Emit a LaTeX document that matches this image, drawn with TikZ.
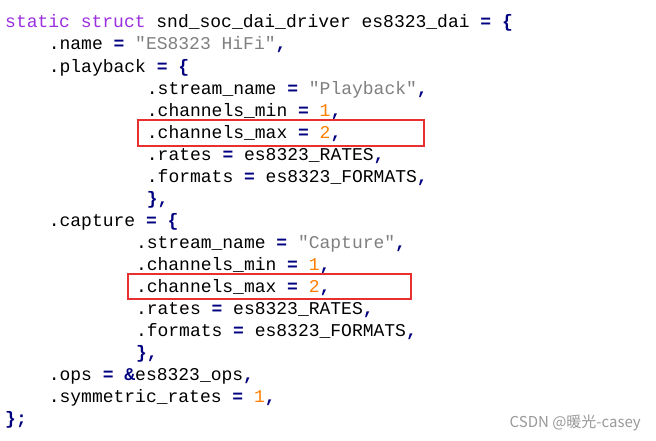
\documentclass[tikz,border=0pt]{standalone}
\usepackage{fontspec}
\setmonofont{Liberation Mono}
\newfontfamily\cjk{Noto Sans CJK SC}
\definecolor{kw}{HTML}{9B30E0}
\definecolor{op}{HTML}{000080}
\definecolor{str}{HTML}{808080}
\definecolor{num}{HTML}{FF8000}
\definecolor{box}{HTML}{E83030}
\newcommand\cK[1]{\textcolor{kw}{#1}}
\newcommand\cO[1]{\textcolor{op}{\bfseries #1}}
\newcommand\cS[1]{\textcolor{str}{#1}}
\newcommand\cN[1]{\textcolor{num}{#1}}
\tikzset{codeline/.style={anchor=base west,inner sep=0pt,font=\ttfamily\fontsize{18}{18}\selectfont},
 hl/.style={draw=box,line width=1.6pt}}
\begin{document}
\begin{tikzpicture}[x=1pt,y=-1pt]
\useasboundingbox[fill=white] (0,0) rectangle (656,440);
\def\cw{10.9}
\node[codeline] (l1) at (5,27) {\cK{static} \cK{struct} snd\_soc\_dai\_driver es8323\_dai \cO{=} \cO{\{}};
\node[codeline] (l2) at (5+4*\cw,49) {.name \cO{=} \cS{"ES8323 HiFi"}\cO{,}};
\node[codeline] (l3) at (5+4*\cw,72) {.playback \cO{=} \cO{\{}};
\node[codeline] (l4) at (5+13*\cw,94) {.stream\_name \cO{=} \cS{"Playback"}\cO{,}};
\node[codeline] (l5) at (5+13*\cw,116) {.channels\_min \cO{=} \cN{1}\cO{,}};
\node[codeline] (l6) at (5+13*\cw,138) {.channels\_max \cO{=} \cN{2}\cO{,}};
\node[codeline] (l7) at (5+13*\cw,160) {.rates \cO{=} es8323\_RATES\cO{,}};
\node[codeline] (l8) at (5+13*\cw,182) {.formats \cO{=} es8323\_FORMATS\cO{,}};
\node[codeline] (l9) at (5+13*\cw,204) {\cO{\},}};
\node[codeline] (l10) at (5+4*\cw,226) {.capture \cO{=} \cO{\{}};
\node[codeline] (l11) at (5+12*\cw,248) {.stream\_name \cO{=} \cS{"Capture"}\cO{,}};
\node[codeline] (l12) at (5+12*\cw,270) {.channels\_min \cO{=} \cN{1}\cO{,}};
\node[codeline] (l13) at (5+12*\cw,292) {.channels\_max \cO{=} \cN{2}\cO{,}};
\node[codeline] (l14) at (5+12*\cw,314) {.rates \cO{=} es8323\_RATES\cO{,}};
\node[codeline] (l15) at (5+12*\cw,336) {.formats \cO{=} es8323\_FORMATS\cO{,}};
\node[codeline] (l16) at (5+12*\cw,358) {\cO{\},}};
\node[codeline] (l17) at (5+4*\cw,380) {.ops \cO{=} \cO{\&}es8323\_ops\cO{,}};
\node[codeline] (l18) at (5+4*\cw,402) {.symmetric\_rates \cO{=} \cN{1}\cO{,}};
\node[codeline] (l19) at (5,424) {\cO{\};}};
\draw[hl] (138,120) rectangle (424,146);
\draw[hl] (128,274) rectangle (411,299);
\node[anchor=base east,inner sep=0pt,font=\cjk\fontsize{15}{15}\selectfont,text=gray!80] (wm) at (641,427) {CSDN @暖光-casey};
\end{tikzpicture}
\end{document}
